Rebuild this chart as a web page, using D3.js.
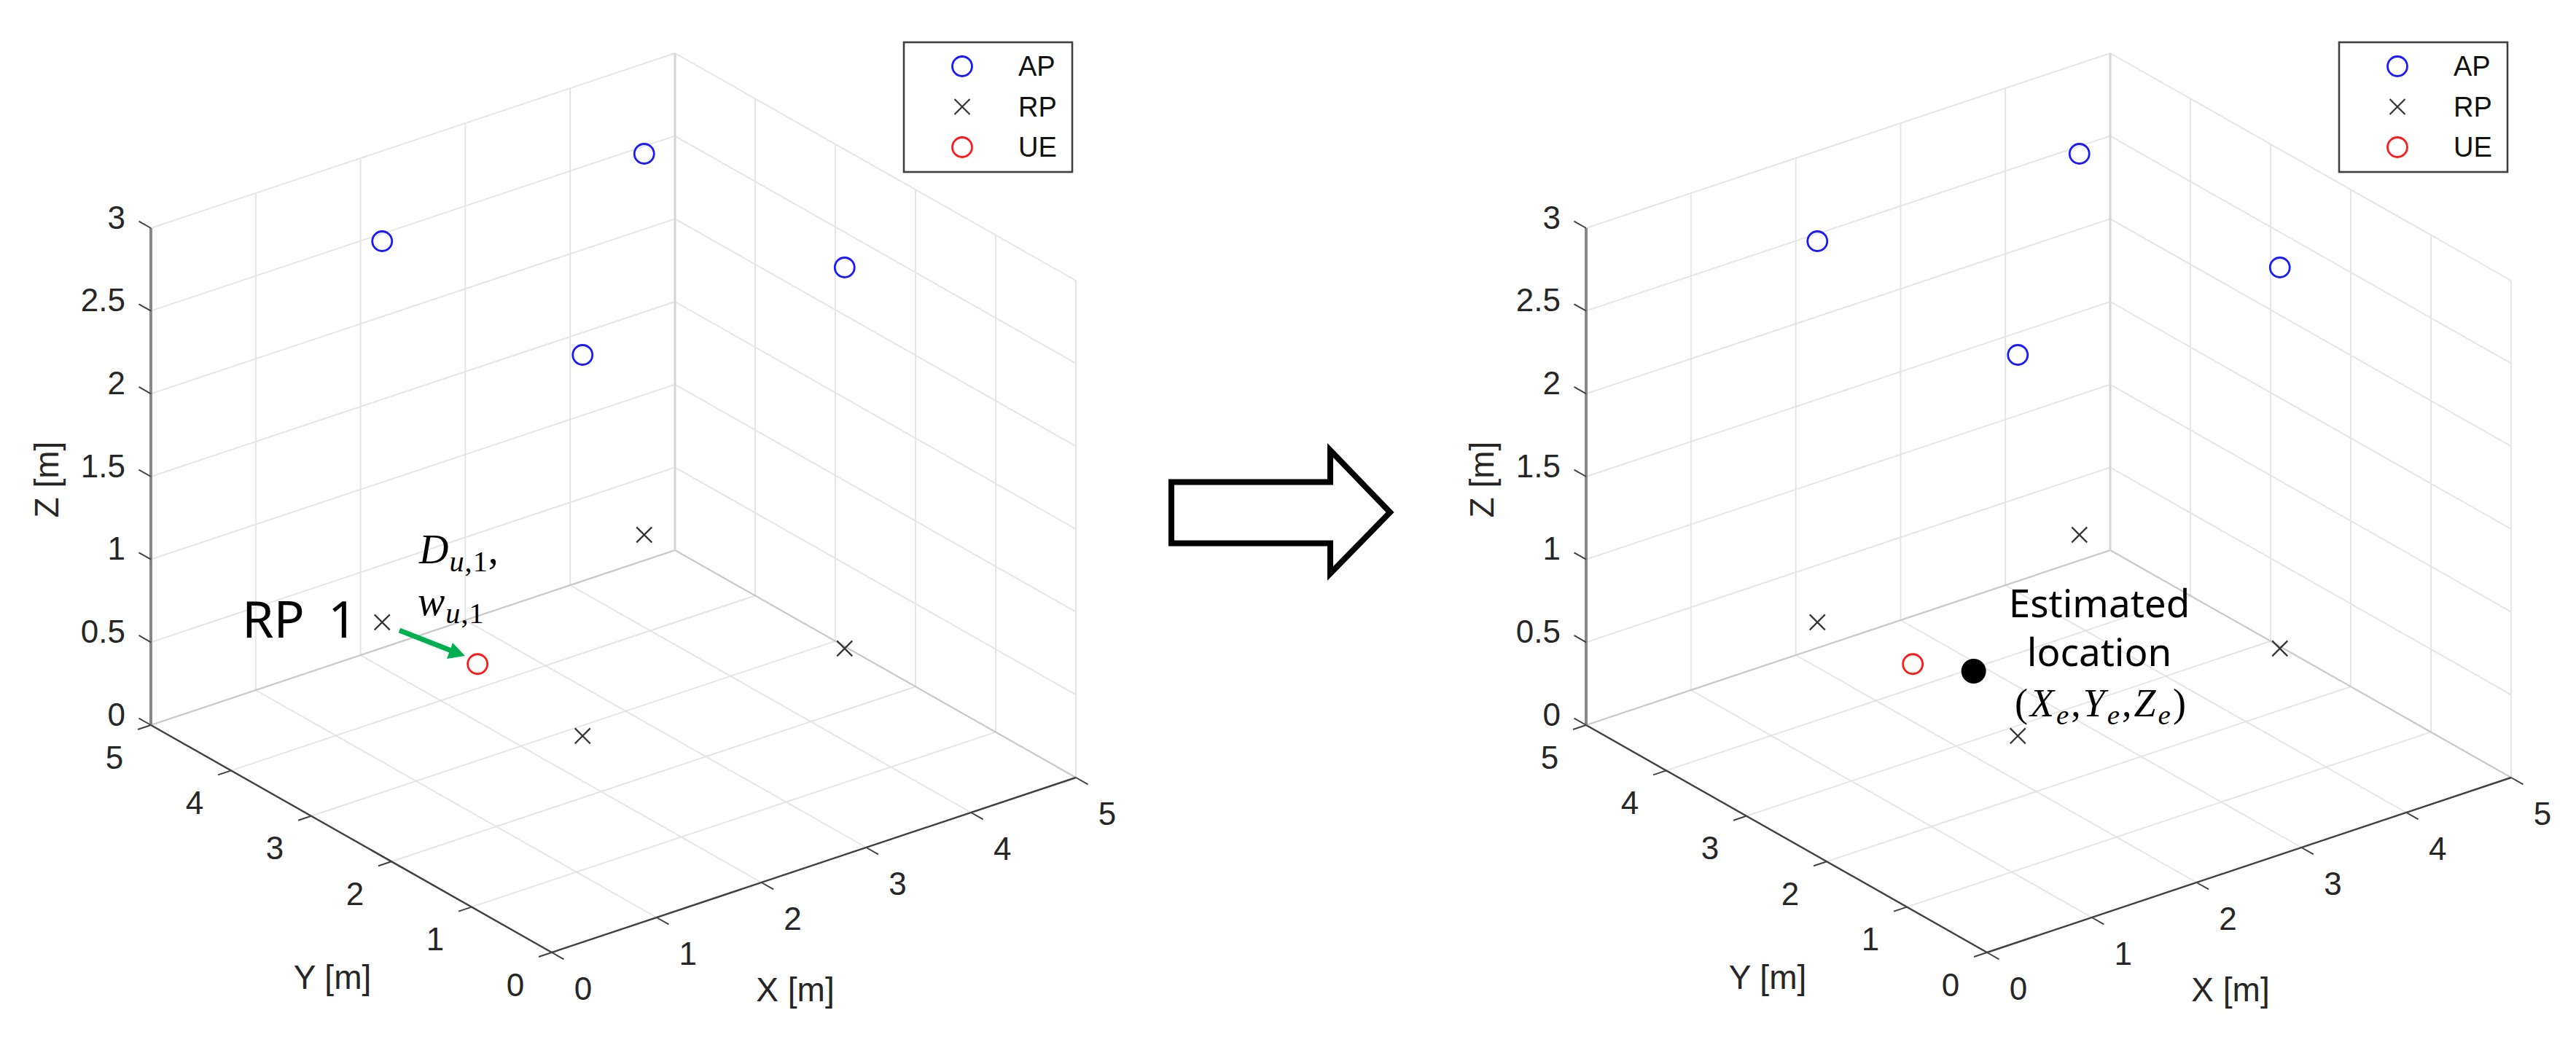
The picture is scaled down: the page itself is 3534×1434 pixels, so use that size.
<!DOCTYPE html>
<html>
<head>
<meta charset="utf-8">
<script src="https://cdn.jsdelivr.net/npm/d3@7"></script>
<style>
  html, body { margin: 0; padding: 0; background: #fff; }
  svg { display: block; }
  text { font-family: "Liberation Sans", Arial, sans-serif; }
</style>
</head>
<body>
<script>
const w = 3534;
const h = 1434;

// data: [x, y, z] in metres
const apPoints = [[1.25, 3.75, 3], [3.75, 3.75, 3], [1.25, 1.25, 3], [3.75, 1.25, 3]];
const rpPoints = [[1.25, 3.75, 0.7], [3.75, 3.75, 0.7], [1.25, 1.25, 0.7], [3.75, 1.25, 0.7]];
const uePoint = [[1.38, 2.73, 0.7]];
const estPoint = [[1.67, 2.35, 0.7]];
const xTicks = [0, 1, 2, 3, 4, 5];
const yTicks = [0, 1, 2, 3, 4, 5];
const zTicks = [0, 0.5, 1, 1.5, 2, 2.5, 3];
const legendNames = ["AP", "RP", "UE"];

const panelOffset = 1969;
const originX = 757;
const originY = 1307;

// oblique projection built out of plain linear scales
const xToSx = d3.scaleLinear().domain([0, 5]).range([0, 719]);
const xToSy = d3.scaleLinear().domain([0, 5]).range([0, -240]);
const yToSx = d3.scaleLinear().domain([0, 5]).range([0, -550]);
const yToSy = d3.scaleLinear().domain([0, 5]).range([0, -312]);
const zToSy = d3.scaleLinear().domain([0, 3]).range([0, -682]);

const px = d => originX + xToSx(d[0]) + yToSx(d[1]);
const py = d => originY + xToSy(d[0]) + yToSy(d[1]) + zToSy(d[2]);
const line3 = d3.line().x(px).y(py);

const svg = d3
  .select("body")
  .append("svg")
  .attr("width", w)
  .attr("height", h);

const gridColor = "#e5e5e5";
const edgeColor = "#c8c8c8";
const axisColor = "#404040";
const textColor = "#262626";

function segs(g, list, color, width) {
  g.selectAll(null)
    .data(list)
    .enter()
    .append("path")
    .attr("d", d => line3(d))
    .attr("fill", "none")
    .attr("stroke", color)
    .attr("stroke-width", width);
}

function drawPanel(g) {
  const gridLines = [];
  // floor
  xTicks.slice(1, 5).forEach(x => gridLines.push([[x, 0, 0], [x, 5, 0]]));
  yTicks.slice(1, 5).forEach(y => gridLines.push([[0, y, 0], [5, y, 0]]));
  // back walls, verticals
  xTicks.slice(1, 5).forEach(x => gridLines.push([[x, 5, 0], [x, 5, 3]]));
  yTicks.slice(0, 5).forEach(y => gridLines.push([[5, y, 0], [5, y, 3]]));
  // back walls, horizontals
  zTicks.slice(1).forEach(z => {
    gridLines.push([[0, 5, z], [5, 5, z]]);
    gridLines.push([[5, 5, z], [5, 0, z]]);
  });
  segs(g, gridLines, gridColor, 2);

  segs(g, [[[0, 5, 0], [5, 5, 0]], [[5, 5, 0], [5, 0, 0]]], edgeColor, 2.2);
  segs(g, [[[5, 5, 0], [5, 5, 3]]], "#d6d6d6", 3);

  // axes
  segs(g, [[[0, 0, 0], [5, 0, 0]], [[0, 0, 0], [0, 5, 0]]], axisColor, 2.4);
  segs(g, [[[0, 5, 0], [0, 5, 3]]], "#888888", 4);

  // tick marks
  segs(g, xTicks.map(x => [[x, 0, 0], [x, -0.15, 0]]), axisColor, 2);
  segs(g, yTicks.map(y => [[0, y, 0], [-0.125, y, 0]]), axisColor, 2);
  segs(g, zTicks.map(z => [[0, 5, z], [0, 5.15, z]]), axisColor, 2);

  // tick labels
  g.selectAll(null)
    .data(xTicks)
    .enter()
    .append("text")
    .attr("x", d => px([d, 0, 0]) + 43)
    .attr("y", d => py([d, 0, 0]) + 49)
    .attr("text-anchor", "middle")
    .attr("dominant-baseline", "central")
    .attr("font-size", 44)
    .attr("fill", textColor)
    .text(d => d);

  g.selectAll(null)
    .data(yTicks)
    .enter()
    .append("text")
    .attr("x", d => px([0, d, 0]) - 50)
    .attr("y", d => py([0, d, 0]) + 44)
    .attr("text-anchor", "middle")
    .attr("dominant-baseline", "central")
    .attr("font-size", 44)
    .attr("fill", textColor)
    .text(d => d);

  g.selectAll(null)
    .data(zTicks)
    .enter()
    .append("text")
    .attr("x", 172)
    .attr("y", d => py([0, 5, d]) - 15)
    .attr("text-anchor", "end")
    .attr("dominant-baseline", "central")
    .attr("font-size", 44)
    .attr("fill", textColor)
    .text(d => d);

  // axis labels
  g.append("text")
    .attr("x", 1091)
    .attr("y", 1358)
    .attr("text-anchor", "middle")
    .attr("dominant-baseline", "central")
    .attr("font-size", 46)
    .attr("fill", textColor)
    .text("X [m]");
  g.append("text")
    .attr("x", 456)
    .attr("y", 1341)
    .attr("text-anchor", "middle")
    .attr("dominant-baseline", "central")
    .attr("font-size", 46)
    .attr("fill", textColor)
    .text("Y [m]");
  g.append("text")
    .attr("transform", "translate(64,658) rotate(-90)")
    .attr("text-anchor", "middle")
    .attr("dominant-baseline", "central")
    .attr("font-size", 46)
    .attr("fill", textColor)
    .text("Z [m]");

  // markers
  circles(g, apPoints, "#1a1aff");
  crosses(g, rpPoints);
  circles(g, uePoint, "#ff1a1a");

  // legend
  const legend = g.append("g");
  legend
    .append("rect")
    .attr("x", 1240)
    .attr("y", 58)
    .attr("width", 231)
    .attr("height", 178)
    .attr("fill", "#fff")
    .attr("stroke", "#404040")
    .attr("stroke-width", 2.6);
  const legendY = d3.scalePoint().domain(legendNames).range([91, 202]);
  legend
    .selectAll("text")
    .data(legendNames)
    .enter()
    .append("text")
    .attr("x", 1397)
    .attr("y", d => legendY(d))
    .attr("dominant-baseline", "central")
    .attr("font-size", 38)
    .attr("fill", "#111")
    .text(d => d);
  legend
    .append("circle")
    .attr("cx", 1320)
    .attr("cy", legendY("AP"))
    .attr("r", 13.5)
    .attr("fill", "none")
    .attr("stroke", "#1a1aff")
    .attr("stroke-width", 2.8);
  crossAt(legend, 1320, legendY("RP"));
  legend
    .append("circle")
    .attr("cx", 1320)
    .attr("cy", legendY("UE"))
    .attr("r", 13.5)
    .attr("fill", "none")
    .attr("stroke", "#ff1a1a")
    .attr("stroke-width", 2.8);
}

function circles(g, pts, color) {
  g.selectAll(null)
    .data(pts)
    .enter()
    .append("circle")
    .attr("cx", px)
    .attr("cy", py)
    .attr("r", 13.5)
    .attr("fill", "none")
    .attr("stroke", color)
    .attr("stroke-width", 2.8);
}

function crossAt(g, cx, cy) {
  const s = 10.5;
  g.append("path")
    .attr("d", `M${cx - s},${cy - s}L${cx + s},${cy + s}M${cx - s},${cy + s}L${cx + s},${cy - s}`)
    .attr("fill", "none")
    .attr("stroke", "#333")
    .attr("stroke-width", 2.2);
}

function crosses(g, pts) {
  pts.forEach(d => crossAt(g, px(d), py(d)));
}

const left = svg.append("g");
const right = svg.append("g").attr("transform", "translate(" + panelOffset + ",0)");
drawPanel(left);
drawPanel(right);

// big arrow between the panels
svg
  .append("path")
  .attr("d", "M1607,661.5H1825V618L1907,703L1825,787V745.5H1607Z")
  .attr("fill", "#fff")
  .attr("stroke", "#000")
  .attr("stroke-width", 8)
  .attr("stroke-miterlimit", 10);

// RP 1 annotation
const noteFont = "'Noto Sans', sans-serif";
const mathFont = "'Liberation Serif', serif";
svg
  .append("text")
  .attr("x", 332)
  .attr("y", 875)
  .attr("font-size", 70)
  .attr("fill", "#000")
  .attr("word-spacing", 14)
  .style("font-family", noteFont)
  .text("RP 1");

function mathText(x, y, size, spacing, parts) {
  const t = svg
    .append("text")
    .attr("x", x)
    .attr("y", y)
    .attr("font-size", size)
    .attr("fill", "#000")
    .attr("letter-spacing", spacing)
    .style("font-family", mathFont);
  let shift = 0;
  parts.forEach(p => {
    const base = p.sub ? 11 : 0;
    t.append("tspan")
      .attr("dy", base - shift)
      .attr("font-size", p.sub ? size * 0.72 : size)
      .attr("font-style", p.roman ? "normal" : "italic")
      .text(p.t);
    shift = base;
  });
}

mathText(575, 773, 56, 1, [
  { t: "D" },
  { t: "u", sub: true },
  { t: ",1", sub: true, roman: true },
  { t: ",", roman: true }
]);
mathText(573, 844, 56, 1, [
  { t: "w" },
  { t: "u", sub: true },
  { t: ",1", sub: true, roman: true }
]);

// green arrow from RP 1 to the UE
svg
  .append("path")
  .attr("d", "M548,865L622,894")
  .attr("stroke", "#00b050")
  .attr("stroke-width", 7)
  .attr("fill", "none");
svg
  .append("path")
  .attr("d", "M638,900L613,904L621,882Z")
  .attr("fill", "#00b050");

// estimated location, right panel only
right
  .selectAll(null)
  .data(estPoint)
  .enter()
  .append("circle")
  .attr("cx", px)
  .attr("cy", py)
  .attr("r", 17)
  .attr("fill", "#000");

svg
  .selectAll(null)
  .data([["Estimated", 847], ["location", 914]])
  .enter()
  .append("text")
  .attr("x", 2880)
  .attr("y", d => d[1])
  .attr("text-anchor", "middle")
  .attr("font-size", 53)
  .attr("fill", "#000")
  .style("font-family", noteFont)
  .text(d => d[0]);

mathText(2764, 983, 54, 3, [
  { t: "(", roman: true },
  { t: "X" },
  { t: "e", sub: true },
  { t: ",", roman: true },
  { t: "Y" },
  { t: "e", sub: true },
  { t: ",", roman: true },
  { t: "Z" },
  { t: "e", sub: true },
  { t: ")", roman: true }
]);
</script>
</body>
</html>
